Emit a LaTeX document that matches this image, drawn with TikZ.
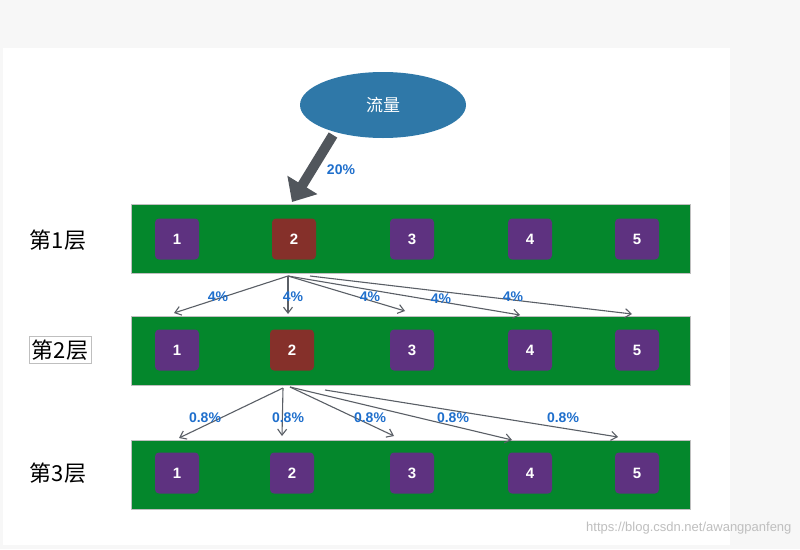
\documentclass[tikz,border=0pt]{standalone}
\usepackage{fontspec}
\setmainfont{Liberation Sans}
\newfontfamily\cjk{Noto Sans CJK SC}
\usetikzlibrary{shapes.geometric,arrows.meta}
\definecolor{band}{HTML}{04872C}
\definecolor{purp}{HTML}{5E3280}
\definecolor{redb}{HTML}{85302A}
\definecolor{ell}{HTML}{2F78A8}
\definecolor{pct}{HTML}{1F6FCC}
\definecolor{arr}{HTML}{5A5F66}
\tikzset{
 bandbox/.style={fill=band,draw=black!25,minimum width=559pt,minimum height=69pt,inner sep=0pt},
 cell/.style={fill=purp,rounded corners=4pt,minimum width=44pt,minimum height=41pt,inner sep=0pt,text=white,font=\bfseries\fontsize{15}{15}\selectfont},
 hot/.style={cell,fill=redb},
 lay/.style={font=\cjk\fontsize{22}{22}\selectfont},
 pl/.style={text=pct,font=\bfseries\fontsize{14}{14}\selectfont},
 thin/.style={draw=arr,line width=1.1pt,-{Straight Barb[length=6pt,width=9pt]}}
}
\begin{document}
\begin{tikzpicture}[x=1pt,y=-1pt]
\useasboundingbox (0,0) rectangle (800,549);
\fill[black!3] (0,0) rectangle (800,549);
\fill[white] (3,48) rectangle (730,545);
% ellipse
\node[ellipse,fill=ell,minimum width=166pt,minimum height=66pt,text=white,font=\cjk\fontsize{17}{17}\selectfont] (flow) at (383,105) {流量};
% bands
\node[bandbox,anchor=north west] (b1) at (131,204) {};
\node[bandbox,anchor=north west] (b2) at (131,316) {};
\node[bandbox,anchor=north west] (b3) at (131,440) {};
\foreach \r/\y in {1/239,2/350,3/473}{
 \foreach \c/\x in {1/177,3/412,4/530,5/637}{
  \node[cell] (c\r\c) at (\x,\y) {\c};
 }
}
\node[hot] (c12) at (294,239) {2};
\node[hot] (c22) at (292,350) {2};
\node[cell] (c32) at (292,473) {2};
\node[lay] (l1) at (58,240) {第1层};
\node[lay,draw=black!25,line width=0.6pt,inner sep=3pt] (l2) at (60,350) {第2层};
\node[lay] (l3) at (58,473) {第3层};
% big arrow
\coordinate (bs) at (333,135);
\coordinate (be) at (292,202);
\draw[draw=arr!90!black,line width=10pt,-{Triangle[length=20pt,width=34pt]}] (bs) -- (be);
\node[pl] (p20) at (341,170) {20\%};
% layer 1 -> 2
\coordinate (s1) at (288,276);
\coordinate (s1b) at (310,276);
\foreach \i/\x/\y in {1/174/313,2/288/314,3/405/311,4/520/315,5/632/314}{\coordinate (e1\i) at (\x,\y);}
\draw[thin] (s1) -- (e11);
\draw[thin] (s1) -- (e12);
\draw[thin] (s1) -- (e13);
\draw[thin] (s1) -- (e14);
\draw[thin] (s1b) -- (e15);
\foreach \i/\x/\y in {1/218/297,2/293/297,3/370/297,4/441/299,5/513/297}{\node[pl] (q\i) at (\x,\y) {4\%};}
% layer 2 -> 3
\coordinate (s2a) at (283,388);
\coordinate (s2b) at (290,387);
\coordinate (s2c) at (325,390);
\foreach \i/\x/\y in {1/179/438,2/282/436,3/394/436,4/512/440,5/618/437}{\coordinate (e2\i) at (\x,\y);}
\draw[thin] (s2a) -- (e21);
\draw[thin] (s2a) -- (e22);
\draw[thin] (s2b) -- (e23);
\draw[thin] (s2b) -- (e24);
\draw[thin] (s2c) -- (e25);
\foreach \i/\x/\y in {1/205/418,2/288/418,3/370/418,4/453/418,5/563/418}{\node[pl] (r\i) at (\x,\y) {0.8\%};}
\node[text=black!25,font=\fontsize{13}{13}\selectfont,anchor=east] (wm) at (795,528) {https://blog.csdn.net/awangpanfeng};
\end{tikzpicture}
\end{document}
